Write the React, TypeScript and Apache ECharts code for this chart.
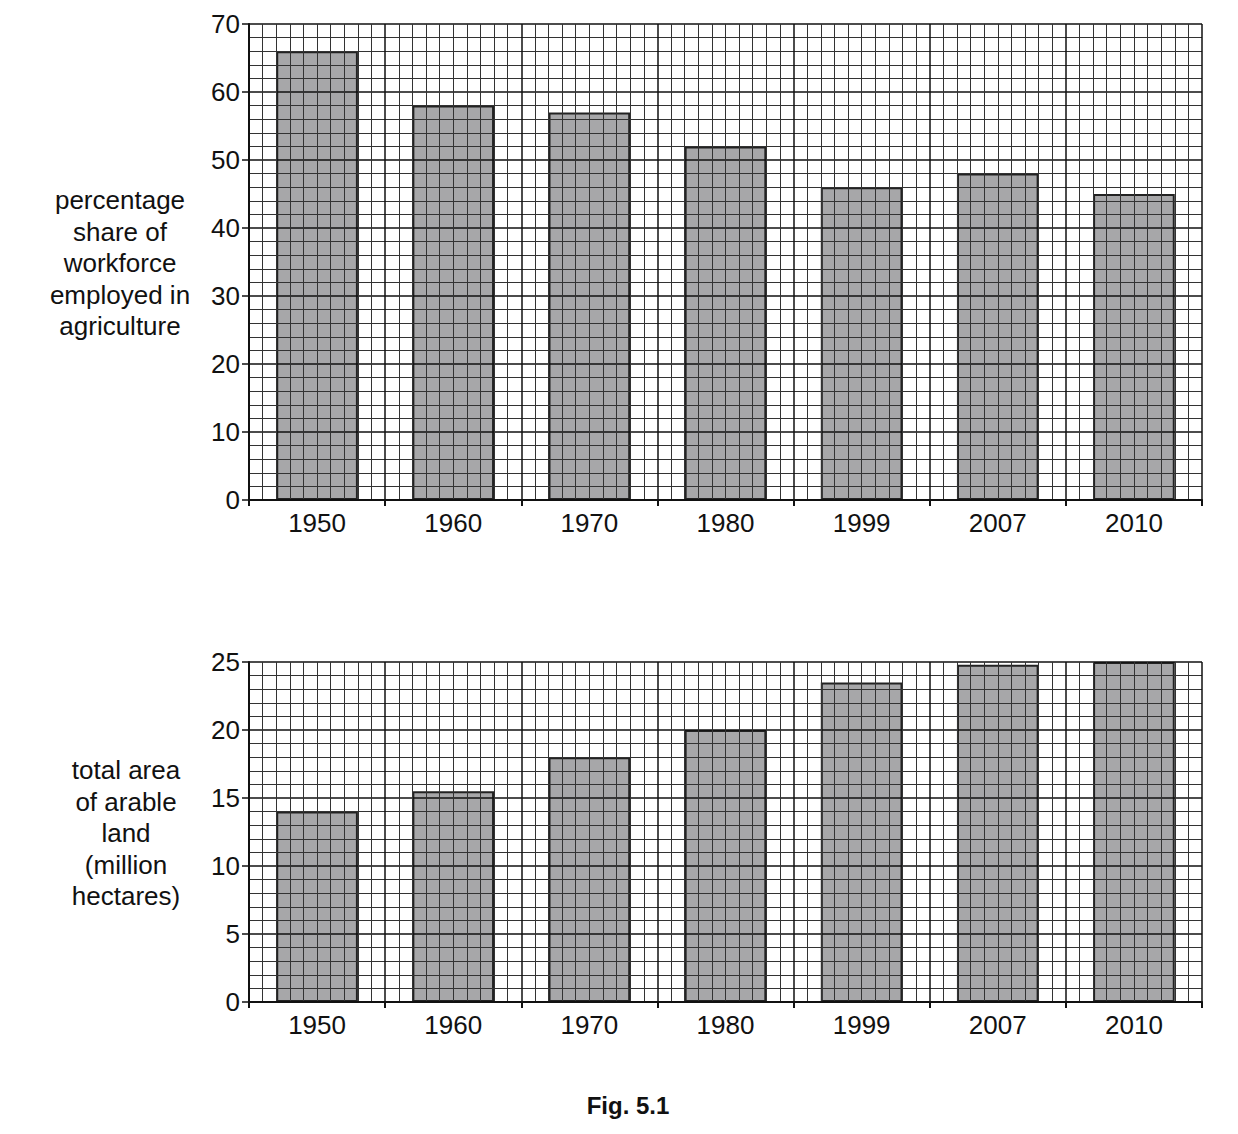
import React, { useEffect, useRef } from "react";
import * as echarts from "echarts";

const years = ["1950", "1960", "1970", "1980", "1999", "2007", "2010"];
const workforceShare = [66, 58, 57, 52, 46, 48, 45];
const arableLand = [14, 15.5, 18, 20, 23.5, 24.8, 25];
const topTitle = ["percentage", "share of", "workforce", "employed in", "agriculture"];
const bottomTitle = ["total area", "of arable", "land", "(million", "hectares)"];
const figLabel = "Fig. 5.1";

const FONT = "'Liberation Sans', Arial, sans-serif";
const BAR_COLOR = "#a7a7a9";

export default function App() {
  const ref = useRef<HTMLDivElement>(null);
  useEffect(() => {
    if (!ref.current) return;
    const chart = echarts.init(ref.current, undefined, { renderer: "svg" });
    const grids = [
      { left: 249, width: 953, top: 24, height: 476 },
      { left: 249, width: 953, top: 662, height: 340 },
    ];
    const catAxis = (gi: number) => ({
      type: "category",
      gridIndex: gi,
      data: years,
      z: 3,
      boundaryGap: true,
      axisLine: { lineStyle: { color: "#111", width: 2 } },
      axisTick: { show: true, length: 6, lineStyle: { color: "#111", width: 2 } },
      axisLabel: { color: "#111", fontSize: 26, fontFamily: FONT, margin: 10 },
      splitLine: { show: false },
    });
    const gridXAxis = (gi: number) => ({
      type: "value",
      gridIndex: gi,
      min: 0,
      max: 7,
      interval: 1,
      z: 3,
      position: "bottom",
      axisLine: { show: false },
      axisTick: { show: false },
      axisLabel: { show: false },
      splitLine: { show: true, lineStyle: { color: "#111", width: 1.5 } },
      minorTick: { show: true, splitNumber: 10, length: 0 },
      minorSplitLine: { show: true, lineStyle: { color: "#333", width: 1 } },
    });
    const valAxis = (gi: number, max: number, interval: number) => ({
      type: "value",
      gridIndex: gi,
      min: 0,
      max,
      interval,
      z: 3,
      axisLine: { show: true, lineStyle: { color: "#111", width: 2 } },
      axisTick: { show: true, length: 7, lineStyle: { color: "#111", width: 1.5 } },
      axisLabel: { color: "#111", fontSize: 26, fontFamily: FONT, margin: 9 },
      splitLine: { show: true, lineStyle: { color: "#111", width: 1.5 } },
      minorTick: { show: true, splitNumber: 5, length: 0 },
      minorSplitLine: { show: true, lineStyle: { color: "#333", width: 1 } },
    });
    const titleText = (lines: string[], cx: number, cy: number) => ({
      type: "text",
      x: cx,
      y: cy,
      style: {
        text: lines.join("\n"),
        fontSize: 26,
        fontFamily: FONT,
        fill: "#111",
        align: "center",
        verticalAlign: "middle",
        lineHeight: 31.5,
      },
    });
    chart.setOption({
      animation: false,
      backgroundColor: "#fff",
      grid: grids,
      xAxis: [catAxis(0), gridXAxis(0), catAxis(1), gridXAxis(1)],
      yAxis: [valAxis(0, 70, 10), valAxis(1, 25, 5)],
      series: [
        {
          type: "bar",
          xAxisIndex: 0,
          yAxisIndex: 0,
          data: workforceShare,
          barWidth: "60%",
          itemStyle: { color: BAR_COLOR, borderColor: "#222", borderWidth: 2 },
        },
        {
          type: "bar",
          xAxisIndex: 2,
          yAxisIndex: 1,
          data: arableLand,
          barWidth: "60%",
          itemStyle: { color: BAR_COLOR, borderColor: "#222", borderWidth: 2 },
        },
      ],
      graphic: [
        titleText(topTitle, 120, 263),
        titleText(bottomTitle, 126, 833),
        {
          type: "text",
          x: 628,
          y: 1105,
          style: {
            text: figLabel,
            fontSize: 24,
            fontWeight: "bold",
            fontFamily: FONT,
            fill: "#111",
            align: "center",
            verticalAlign: "middle",
          },
        },
      ],
    });
    return () => chart.dispose();
  }, []);
  return (
    <div
      ref={ref}
      style={{ position: "fixed", left: 0, top: 0, width: 1238, height: 1134, background: "#fff" }}
    />
  );
}
